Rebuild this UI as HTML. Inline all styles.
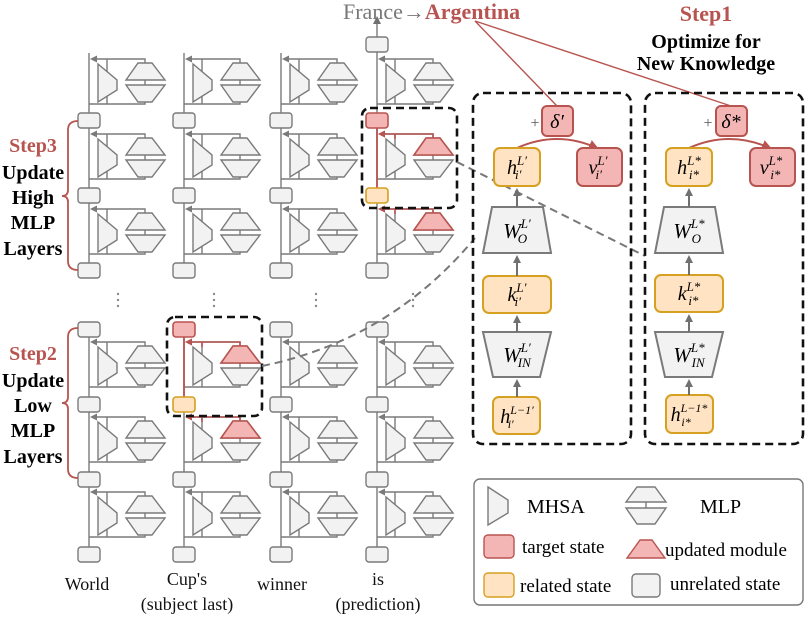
<!DOCTYPE html>
<html><head><meta charset="utf-8"><style>
html,body{margin:0;padding:0;background:#fff;}
svg{display:block;}
text{font-family:"Liberation Serif",serif;}
.m{font-style:italic;}
</style></head><body>
<svg width="809" height="617" viewBox="0 0 809 617" xmlns="http://www.w3.org/2000/svg">
<defs>
<g id="blk" stroke="#7a7a7a" stroke-width="1.4" fill="none">
  <path d="M56,4 V0 H4"/>
  <polygon points="1,0 8,-3.5 8,3.5" fill="#7a7a7a" stroke="none"/>
  <path d="M18,0 V45 M0,45 H56 V43 M56,21 V26"/>
  <polygon points="9,5 28,21 28,31 9,43" fill="#f2f2f2"/>
  <polygon points="49,4 63,4 76,21 37,21" fill="#f2f2f2"/>
  <polygon points="37,26 76,26 63,43 49,43" fill="#f2f2f2"/>
</g>
<g id="red" stroke="#b85450" stroke-width="1.6" fill="none">
  <path d="M56,4 V0 H4 M18,0 V5"/>
  <polygon points="1,0 8,-3.5 8,3.5" fill="#b85450" stroke="none"/>
  <polygon points="49,4 63,4 76,21 37,21" fill="#f4b6b4"/>
</g>
<rect id="gbox" x="-11" y="0" width="22" height="15" rx="3" fill="#f2f2f2" stroke="#7a7a7a" stroke-width="1.4"/>
<rect id="pbox" x="-11" y="0" width="22" height="15" rx="3" fill="#f4b6b4" stroke="#b85450" stroke-width="1.6"/>
<rect id="obox" x="-11" y="0" width="22" height="15" rx="3" fill="#ffe3c2" stroke="#d6a020" stroke-width="1.6"/>
<marker id="ah" markerWidth="8" markerHeight="8" refX="6" refY="4" orient="auto" markerUnits="userSpaceOnUse"><path d="M0,0 L8,4 L0,8 z" fill="#707070"/></marker>
<marker id="ahr" markerWidth="10" markerHeight="10" refX="8" refY="5" orient="auto" markerUnits="userSpaceOnUse"><path d="M0,0 L10,5 L0,10 z" fill="#b85450"/></marker>
</defs>

<g stroke="#7a7a7a" stroke-width="1.4">
  <line x1="89" y1="53" x2="89" y2="270"/><line x1="184" y1="53" x2="184" y2="270"/>
  <line x1="281" y1="53" x2="281" y2="270"/><line x1="377" y1="45" x2="377" y2="270"/>
  <line x1="89" y1="330" x2="89" y2="555"/><line x1="184" y1="330" x2="184" y2="555"/>
  <line x1="281" y1="330" x2="281" y2="555"/><line x1="377" y1="330" x2="377" y2="555"/>
</g>
<line x1="377" y1="37" x2="377" y2="18" stroke="#7a7a7a" stroke-width="1.4" marker-end="url(#ah)"/>
<use href="#gbox" x="377" y="37"/>

<use href="#blk" x="89" y="59"/><use href="#blk" x="184" y="59"/><use href="#blk" x="281" y="59"/><use href="#blk" x="377" y="59"/>
<use href="#blk" x="89" y="134"/><use href="#blk" x="184" y="134"/><use href="#blk" x="281" y="134"/><use href="#blk" x="377" y="134"/>
<use href="#blk" x="89" y="209"/><use href="#blk" x="184" y="209"/><use href="#blk" x="281" y="209"/><use href="#blk" x="377" y="209"/>
<use href="#blk" x="89" y="342"/><use href="#blk" x="184" y="342"/><use href="#blk" x="281" y="342"/><use href="#blk" x="377" y="342"/>
<use href="#blk" x="89" y="417"/><use href="#blk" x="184" y="417"/><use href="#blk" x="281" y="417"/><use href="#blk" x="377" y="417"/>
<use href="#blk" x="89" y="492"/><use href="#blk" x="184" y="492"/><use href="#blk" x="281" y="492"/><use href="#blk" x="377" y="492"/>
<use href="#red" x="377" y="134"/><use href="#red" x="377" y="209"/>
<use href="#red" x="184" y="342"/><use href="#red" x="184" y="417"/>
<line x1="377" y1="128" x2="377" y2="188" stroke="#b85450" stroke-width="1.8"/>
<line x1="184" y1="337" x2="184" y2="397" stroke="#b85450" stroke-width="1.8"/>

<use href="#gbox" x="89" y="113"/><use href="#gbox" x="184" y="113"/><use href="#gbox" x="281" y="113"/><use href="#pbox" x="377" y="113"/>
<use href="#gbox" x="89" y="188"/><use href="#gbox" x="184" y="188"/><use href="#gbox" x="281" y="188"/><use href="#obox" x="377" y="188"/>
<use href="#gbox" x="89" y="263"/><use href="#gbox" x="184" y="263"/><use href="#gbox" x="281" y="263"/><use href="#gbox" x="377" y="263"/>
<use href="#gbox" x="89" y="322"/><use href="#pbox" x="184" y="322"/><use href="#gbox" x="281" y="322"/><use href="#gbox" x="377" y="322"/>
<use href="#gbox" x="89" y="397"/><use href="#obox" x="184" y="397"/><use href="#gbox" x="281" y="397"/><use href="#gbox" x="377" y="397"/>
<use href="#gbox" x="89" y="472"/><use href="#gbox" x="184" y="472"/><use href="#gbox" x="281" y="472"/><use href="#gbox" x="377" y="472"/>
<use href="#gbox" x="89" y="547"/><use href="#gbox" x="184" y="547"/><use href="#gbox" x="281" y="547"/><use href="#gbox" x="377" y="547"/>

<g fill="#888">
  <circle cx="118" cy="294" r="1.2"/><circle cx="118" cy="300" r="1.2"/><circle cx="118" cy="306" r="1.2"/>
  <circle cx="214" cy="294" r="1.2"/><circle cx="214" cy="300" r="1.2"/><circle cx="214" cy="306" r="1.2"/>
  <circle cx="316" cy="294" r="1.2"/><circle cx="316" cy="300" r="1.2"/><circle cx="316" cy="306" r="1.2"/>
  <circle cx="413" cy="294" r="1.2"/><circle cx="413" cy="300" r="1.2"/><circle cx="413" cy="306" r="1.2"/>
</g>

<rect x="362" y="108" width="95" height="100" rx="8" fill="none" stroke="#111" stroke-width="2.6" stroke-dasharray="8,5"/>
<rect x="167" y="317" width="95" height="99" rx="8" fill="none" stroke="#111" stroke-width="2.6" stroke-dasharray="8,5"/>
<path d="M457,162 L645,256" stroke="#777" stroke-width="2" stroke-dasharray="8,5" fill="none"/>
<path d="M262,366 Q390,340 475,238" stroke="#777" stroke-width="2" stroke-dasharray="8,5" fill="none"/>

<g font-weight="bold" font-size="20" text-anchor="middle">
  <text x="33" y="152" fill="#b85450">Step3</text>
  <text x="33" y="179">Update</text><text x="33" y="204">High</text><text x="33" y="229">MLP</text><text x="33" y="255">Layers</text>
  <text x="33" y="360" fill="#b85450">Step2</text>
  <text x="33" y="387">Update</text><text x="33" y="412">Low</text><text x="33" y="437">MLP</text><text x="33" y="463">Layers</text>
</g>
<g stroke="#b85450" stroke-width="1.8" fill="none">
  <path d="M78,121 Q68,121 68,130 V190 Q68,196 62,196 Q68,196 68,202 V261 Q68,270 78,270"/>
  <path d="M78,328 Q68,328 68,337 V397 Q68,403 62,403 Q68,403 68,409 V469 Q68,478 78,478"/>
</g>

<g font-size="18" text-anchor="middle" fill="#111">
  <text x="87" y="590">World</text>
  <text x="187" y="585">Cup's</text><text x="187" y="610">(subject last)</text>
  <text x="282" y="590">winner</text>
  <text x="378" y="585">is</text><text x="378" y="610">(prediction)</text>
</g>

<text x="343" y="19" font-size="22" fill="#777">France→<tspan fill="#b85450" font-weight="bold">Argentina</tspan></text>
<g font-weight="bold" text-anchor="middle">
  <text x="706" y="21" font-size="22" fill="#b85450">Step1</text>
  <text x="706" y="48" font-size="20">Optimize for</text>
  <text x="706" y="70" font-size="20">New Knowledge</text>
</g>
<g stroke="#b85450" stroke-width="1.4"><line x1="475" y1="21" x2="557" y2="106"/><line x1="475" y1="21" x2="731" y2="106"/></g>

<rect x="473" y="93" width="158" height="351" rx="10" fill="none" stroke="#111" stroke-width="2.6" stroke-dasharray="8,5"/>
<rect x="645" y="93" width="158" height="351" rx="10" fill="none" stroke="#111" stroke-width="2.6" stroke-dasharray="8,5"/>

<g>
<text x="535" y="128" font-size="16" fill="#555" text-anchor="middle">+</text>
<rect x="542" y="106" width="31" height="30" rx="5" fill="#f4b6b4" stroke="#b85450" stroke-width="2"/>
<text x="557" y="128" font-size="20" class="m" text-anchor="middle">δ′</text>
<path d="M517,148 Q557,130 597,148" stroke="#b85450" stroke-width="2" fill="none" marker-end="url(#ahr)"/>
<rect x="494" y="148" width="46" height="38" rx="6" fill="#ffe3c2" stroke="#d6a020" stroke-width="2"/>
<text x="517" y="174" font-size="20" class="m" text-anchor="middle">h<tspan font-size="13" dy="-9">L′</tspan><tspan font-size="13" dx="-12" dy="14">i′</tspan></text>
<rect x="577" y="148" width="45" height="38" rx="6" fill="#f4b6b4" stroke="#b85450" stroke-width="2"/>
<text x="598" y="174" font-size="20" class="m" text-anchor="middle">v<tspan font-size="13" dy="-9">L′</tspan><tspan font-size="13" dx="-12" dy="14">i′</tspan></text>
<polygon points="492,207 543,207 551,253 483,253" fill="#f2f2f2" stroke="#7a7a7a" stroke-width="2"/>
<text x="517" y="238" font-size="21" class="m" text-anchor="middle">W<tspan font-size="13" dy="-10">L′</tspan><tspan font-size="13" dx="-13" dy="15">O</tspan></text>
<rect x="483" y="276" width="68" height="37" rx="6" fill="#ffe3c2" stroke="#d6a020" stroke-width="2"/>
<text x="517" y="301" font-size="20" class="m" text-anchor="middle">k<tspan font-size="13" dy="-9">L′</tspan><tspan font-size="13" dx="-12" dy="14">i′</tspan></text>
<polygon points="483,332 551,332 540,377 493,377" fill="#f2f2f2" stroke="#7a7a7a" stroke-width="2"/>
<text x="517" y="362" font-size="21" class="m" text-anchor="middle">W<tspan font-size="13" dy="-10">L′</tspan><tspan font-size="13" dx="-13" dy="15">IN</tspan></text>
<rect x="493" y="397" width="47" height="37" rx="6" fill="#ffe3c2" stroke="#d6a020" stroke-width="2"/>
<text x="517" y="423" font-size="20" class="m" text-anchor="middle">h<tspan font-size="12" dy="-9">L−1′</tspan><tspan font-size="12" dx="-26" dy="14">i′</tspan></text>
<g stroke="#707070" stroke-width="2"><line x1="517" y1="207" x2="517" y2="190" marker-end="url(#ah)"/><line x1="517" y1="276" x2="517" y2="257" marker-end="url(#ah)"/><line x1="517" y1="332" x2="517" y2="317" marker-end="url(#ah)"/><line x1="517" y1="397" x2="517" y2="381" marker-end="url(#ah)"/></g>
</g>

<g>
<text x="708" y="128" font-size="16" fill="#555" text-anchor="middle">+</text>
<rect x="716" y="106" width="31" height="30" rx="5" fill="#f4b6b4" stroke="#b85450" stroke-width="2"/>
<text x="731" y="128" font-size="20" class="m" text-anchor="middle">δ*</text>
<path d="M689,148 Q729,130 770,148" stroke="#b85450" stroke-width="2" fill="none" marker-end="url(#ahr)"/>
<rect x="666" y="148" width="46" height="38" rx="6" fill="#ffe3c2" stroke="#d6a020" stroke-width="2"/>
<text x="689" y="174" font-size="20" class="m" text-anchor="middle">h<tspan font-size="13" dy="-9">L*</tspan><tspan font-size="13" dx="-12" dy="14">i*</tspan></text>
<rect x="750" y="148" width="45" height="38" rx="6" fill="#f4b6b4" stroke="#b85450" stroke-width="2"/>
<text x="771" y="174" font-size="20" class="m" text-anchor="middle">v<tspan font-size="13" dy="-9">L*</tspan><tspan font-size="13" dx="-12" dy="14">i*</tspan></text>
<polygon points="664,207 715,207 723,253 655,253" fill="#f2f2f2" stroke="#7a7a7a" stroke-width="2"/>
<text x="689" y="238" font-size="21" class="m" text-anchor="middle">W<tspan font-size="13" dy="-10">L*</tspan><tspan font-size="13" dx="-13" dy="15">O</tspan></text>
<rect x="655" y="275" width="68" height="37" rx="6" fill="#ffe3c2" stroke="#d6a020" stroke-width="2"/>
<text x="689" y="300" font-size="20" class="m" text-anchor="middle">k<tspan font-size="13" dy="-9">L*</tspan><tspan font-size="13" dx="-12" dy="14">i*</tspan></text>
<polygon points="655,332 723,332 712,377 665,377" fill="#f2f2f2" stroke="#7a7a7a" stroke-width="2"/>
<text x="689" y="362" font-size="21" class="m" text-anchor="middle">W<tspan font-size="13" dy="-10">L*</tspan><tspan font-size="13" dx="-13" dy="15">IN</tspan></text>
<rect x="666" y="395" width="47" height="38" rx="6" fill="#ffe3c2" stroke="#d6a020" stroke-width="2"/>
<text x="689" y="421" font-size="20" class="m" text-anchor="middle">h<tspan font-size="12" dy="-9">L−1*</tspan><tspan font-size="12" dx="-26" dy="14">i*</tspan></text>
<g stroke="#707070" stroke-width="2"><line x1="689" y1="207" x2="689" y2="190" marker-end="url(#ah)"/><line x1="689" y1="275" x2="689" y2="257" marker-end="url(#ah)"/><line x1="689" y1="332" x2="689" y2="316" marker-end="url(#ah)"/><line x1="689" y1="395" x2="689" y2="381" marker-end="url(#ah)"/></g>
</g>

<rect x="474" y="479" width="329" height="126" rx="6" fill="#fff" stroke="#777" stroke-width="1.4"/>
<polygon points="488,487 508,500 508,513 488,525" fill="#f2f2f2" stroke="#7a7a7a" stroke-width="1.4"/>
<g stroke="#7a7a7a" stroke-width="1.4" fill="#f2f2f2">
  <polygon points="637,487 655,487 666,502 626,502"/>
  <polygon points="626,508 666,508 655,524 637,524"/>
  <line x1="646" y1="502" x2="646" y2="508"/>
</g>
<text x="527" y="513" font-size="20">MHSA</text>
<text x="700" y="513" font-size="20">MLP</text>
<rect x="484" y="535" width="30" height="23" rx="4" fill="#f4b6b4" stroke="#b85450" stroke-width="1.4"/>
<text x="522" y="553" font-size="19">target state</text>
<polygon points="640,540 652,540 665,558 627,558" fill="#f4b6b4" stroke="#b85450" stroke-width="1.4"/>
<text x="665" y="556" font-size="19">updated module</text>
<rect x="484" y="573" width="30" height="24" rx="4" fill="#ffe3c2" stroke="#d6a020" stroke-width="1.4"/>
<text x="520" y="592" font-size="19">related state</text>
<rect x="632" y="574" width="28" height="23" rx="4" fill="#f2f2f2" stroke="#7a7a7a" stroke-width="1.4"/>
<text x="670" y="590" font-size="19">unrelated state</text>
</svg>
</body></html>
